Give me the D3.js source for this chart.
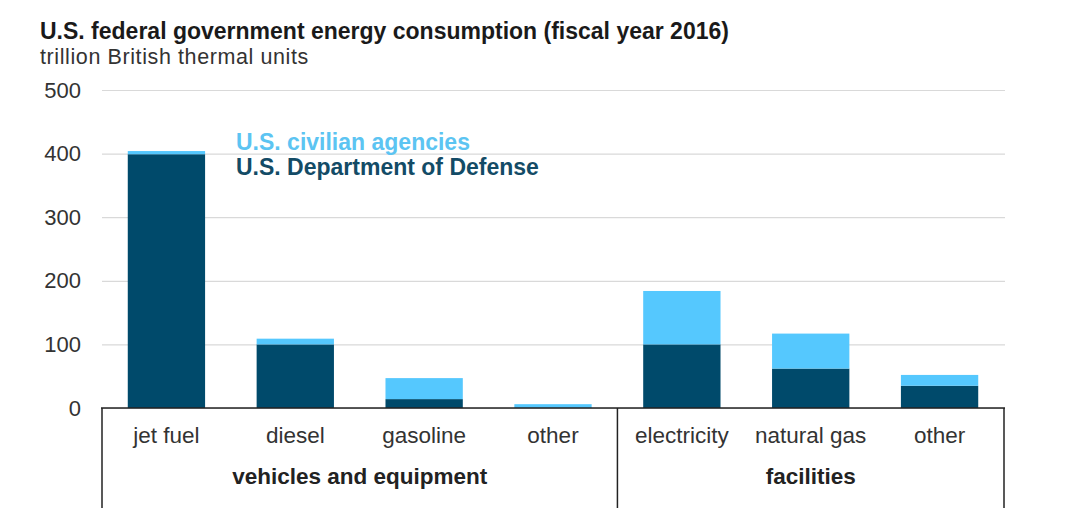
<!DOCTYPE html>
<html>
<head>
<meta charset="utf-8">
<script src="https://cdn.jsdelivr.net/npm/d3@7"></script>
<style>
  body { margin: 0; background: #fff; }
  svg { font-family: "Liberation Sans", Arial, sans-serif; }
</style>
</head>
<body>
<div id="graph"></div>
<script>
// data (trillion Btu)
var categories = ["jet fuel", "diesel", "gasoline", "other", "electricity", "natural gas", "other "];
var groups = ["vehicles and equipment", "vehicles and equipment", "vehicles and equipment", "vehicles and equipment",
              "facilities", "facilities", "facilities"];
var defense = [399, 100, 14, 0, 100, 62, 35];
var civilian = [5, 9, 33, 6, 84, 55, 17];
var yTicks = [0, 100, 200, 300, 400, 500];
var seriesNames = ["U.S. civilian agencies", "U.S. Department of Defense"];

var W = 1065, H = 508;
var plotLeft = 102, plotRight = 1004, plotTop = 90, plotBottom = 408;

var darkBlue = "#004a6b", lightBlue = "#55c8fe";

var svg = d3.select("#graph")
  .append("svg")
    .attr("width", W)
    .attr("height", H);

// title
svg.append("text")
  .attr("x", 40).attr("y", 39)
  .attr("font-size", 23).attr("font-weight", "bold").attr("fill", "#1a1a1a")
  .text("U.S. federal government energy consumption (fiscal year 2016)");
svg.append("text")
  .attr("x", 40).attr("y", 64)
  .attr("font-size", 21.5).attr("fill", "#333").attr("letter-spacing", 0.6)
  .text("trillion British thermal units");

// scales
var x = d3.scaleBand().domain(categories).range([plotLeft, plotRight]).paddingInner(0.4).paddingOuter(0.2);
var y = d3.scaleLinear().domain([0, 500]).range([plotBottom, plotTop]);

// gridlines
svg.append("g")
  .attr("transform", "translate(" + plotLeft + ",0)")
  .call(d3.axisLeft(y).tickValues(yTicks).tickSize(-(plotRight - plotLeft + 1)).tickFormat(""))
  .call(function(g) {
    g.select(".domain").remove();
    g.selectAll("line").attr("stroke", "#d9d9d9").attr("stroke-width", 1.2);
  });

// y tick labels
svg.append("g")
  .attr("transform", "translate(" + 81 + ",0)")
  .call(d3.axisLeft(y).tickValues(yTicks).tickSize(0).tickPadding(0))
  .call(function(g) {
    g.select(".domain").remove();
    g.selectAll("text")
      .attr("font-family", "Liberation Sans, Arial, sans-serif")
      .attr("font-size", 22).attr("fill", "#333");
  });

// stacked bars
var rows = categories.map(function(c, i) {
  return { cat: c, defense: defense[i], civilian: civilian[i] };
});
var stack = d3.stack().keys(["defense", "civilian"])(rows);
var colors = { defense: darkBlue, civilian: lightBlue };

svg.append("g").selectAll("g")
  .data(stack)
  .join("g")
    .attr("fill", function(d) { return colors[d.key]; })
  .selectAll("rect")
  .data(function(d) { return d; })
  .join("rect")
    .attr("x", function(d) { return x(d.data.cat); })
    .attr("width", x.bandwidth())
    .attr("y", function(d) { return y(d[1]); })
    .attr("height", function(d) { return y(d[0]) - y(d[1]); });

// category axis box
var xAxis = svg.append("g")
  .attr("transform", "translate(0," + plotBottom + ")");
xAxis.append("line")
  .attr("x1", plotLeft - 1).attr("x2", plotRight + 1).attr("y1", 0).attr("y2", 0)
  .attr("stroke", "#222").attr("stroke-width", 1.5);

// group boundaries
var groupNames = Array.from(new Set(groups));
var groupInfo = groupNames.map(function(g) {
  var cats = categories.filter(function(c, i) { return groups[i] === g; });
  var gap = (x.step() - x.bandwidth()) / 2;
  var x0 = x(cats[0]) - gap;
  var x1 = x(cats[cats.length - 1]) + x.bandwidth() + gap;
  return { name: g, x0: x0, x1: x1 };
});
var edges = [plotLeft].concat(groupInfo.map(function(g) { return g.x1; }));
edges[edges.length - 1] = plotRight;
xAxis.selectAll("line.edge")
  .data(edges)
  .join("line")
    .attr("class", "edge")
    .attr("x1", function(d) { return d; }).attr("x2", function(d) { return d; })
    .attr("y1", 0).attr("y2", H - plotBottom)
    .attr("stroke", "#222").attr("stroke-width", 1.5);

// category labels
xAxis.selectAll("text.cat")
  .data(categories)
  .join("text")
    .attr("class", "cat")
    .attr("x", function(d) { return x(d) + x.bandwidth() / 2; })
    .attr("y", 35)
    .attr("text-anchor", "middle")
    .attr("font-size", 22.5).attr("fill", "#333")
    .text(function(d) { return d.trim(); });

// group labels
xAxis.selectAll("text.grp")
  .data(groupInfo)
  .join("text")
    .attr("class", "grp")
    .attr("x", function(d) { return (d.x0 + d.x1) / 2; })
    .attr("y", 76)
    .attr("text-anchor", "middle")
    .attr("font-size", 22.5).attr("font-weight", "bold").attr("fill", "#222")
    .text(function(d) { return d.name; });

// legend
svg.append("text")
  .attr("x", 236).attr("y", 150)
  .attr("font-size", 23).attr("font-weight", "bold").attr("fill", "#5cc4f2")
  .text(seriesNames[0]);
svg.append("text")
  .attr("x", 236).attr("y", 175)
  .attr("font-size", 23).attr("font-weight", "bold").attr("fill", "#134b66")
  .text(seriesNames[1]);
</script>
</body>
</html>
